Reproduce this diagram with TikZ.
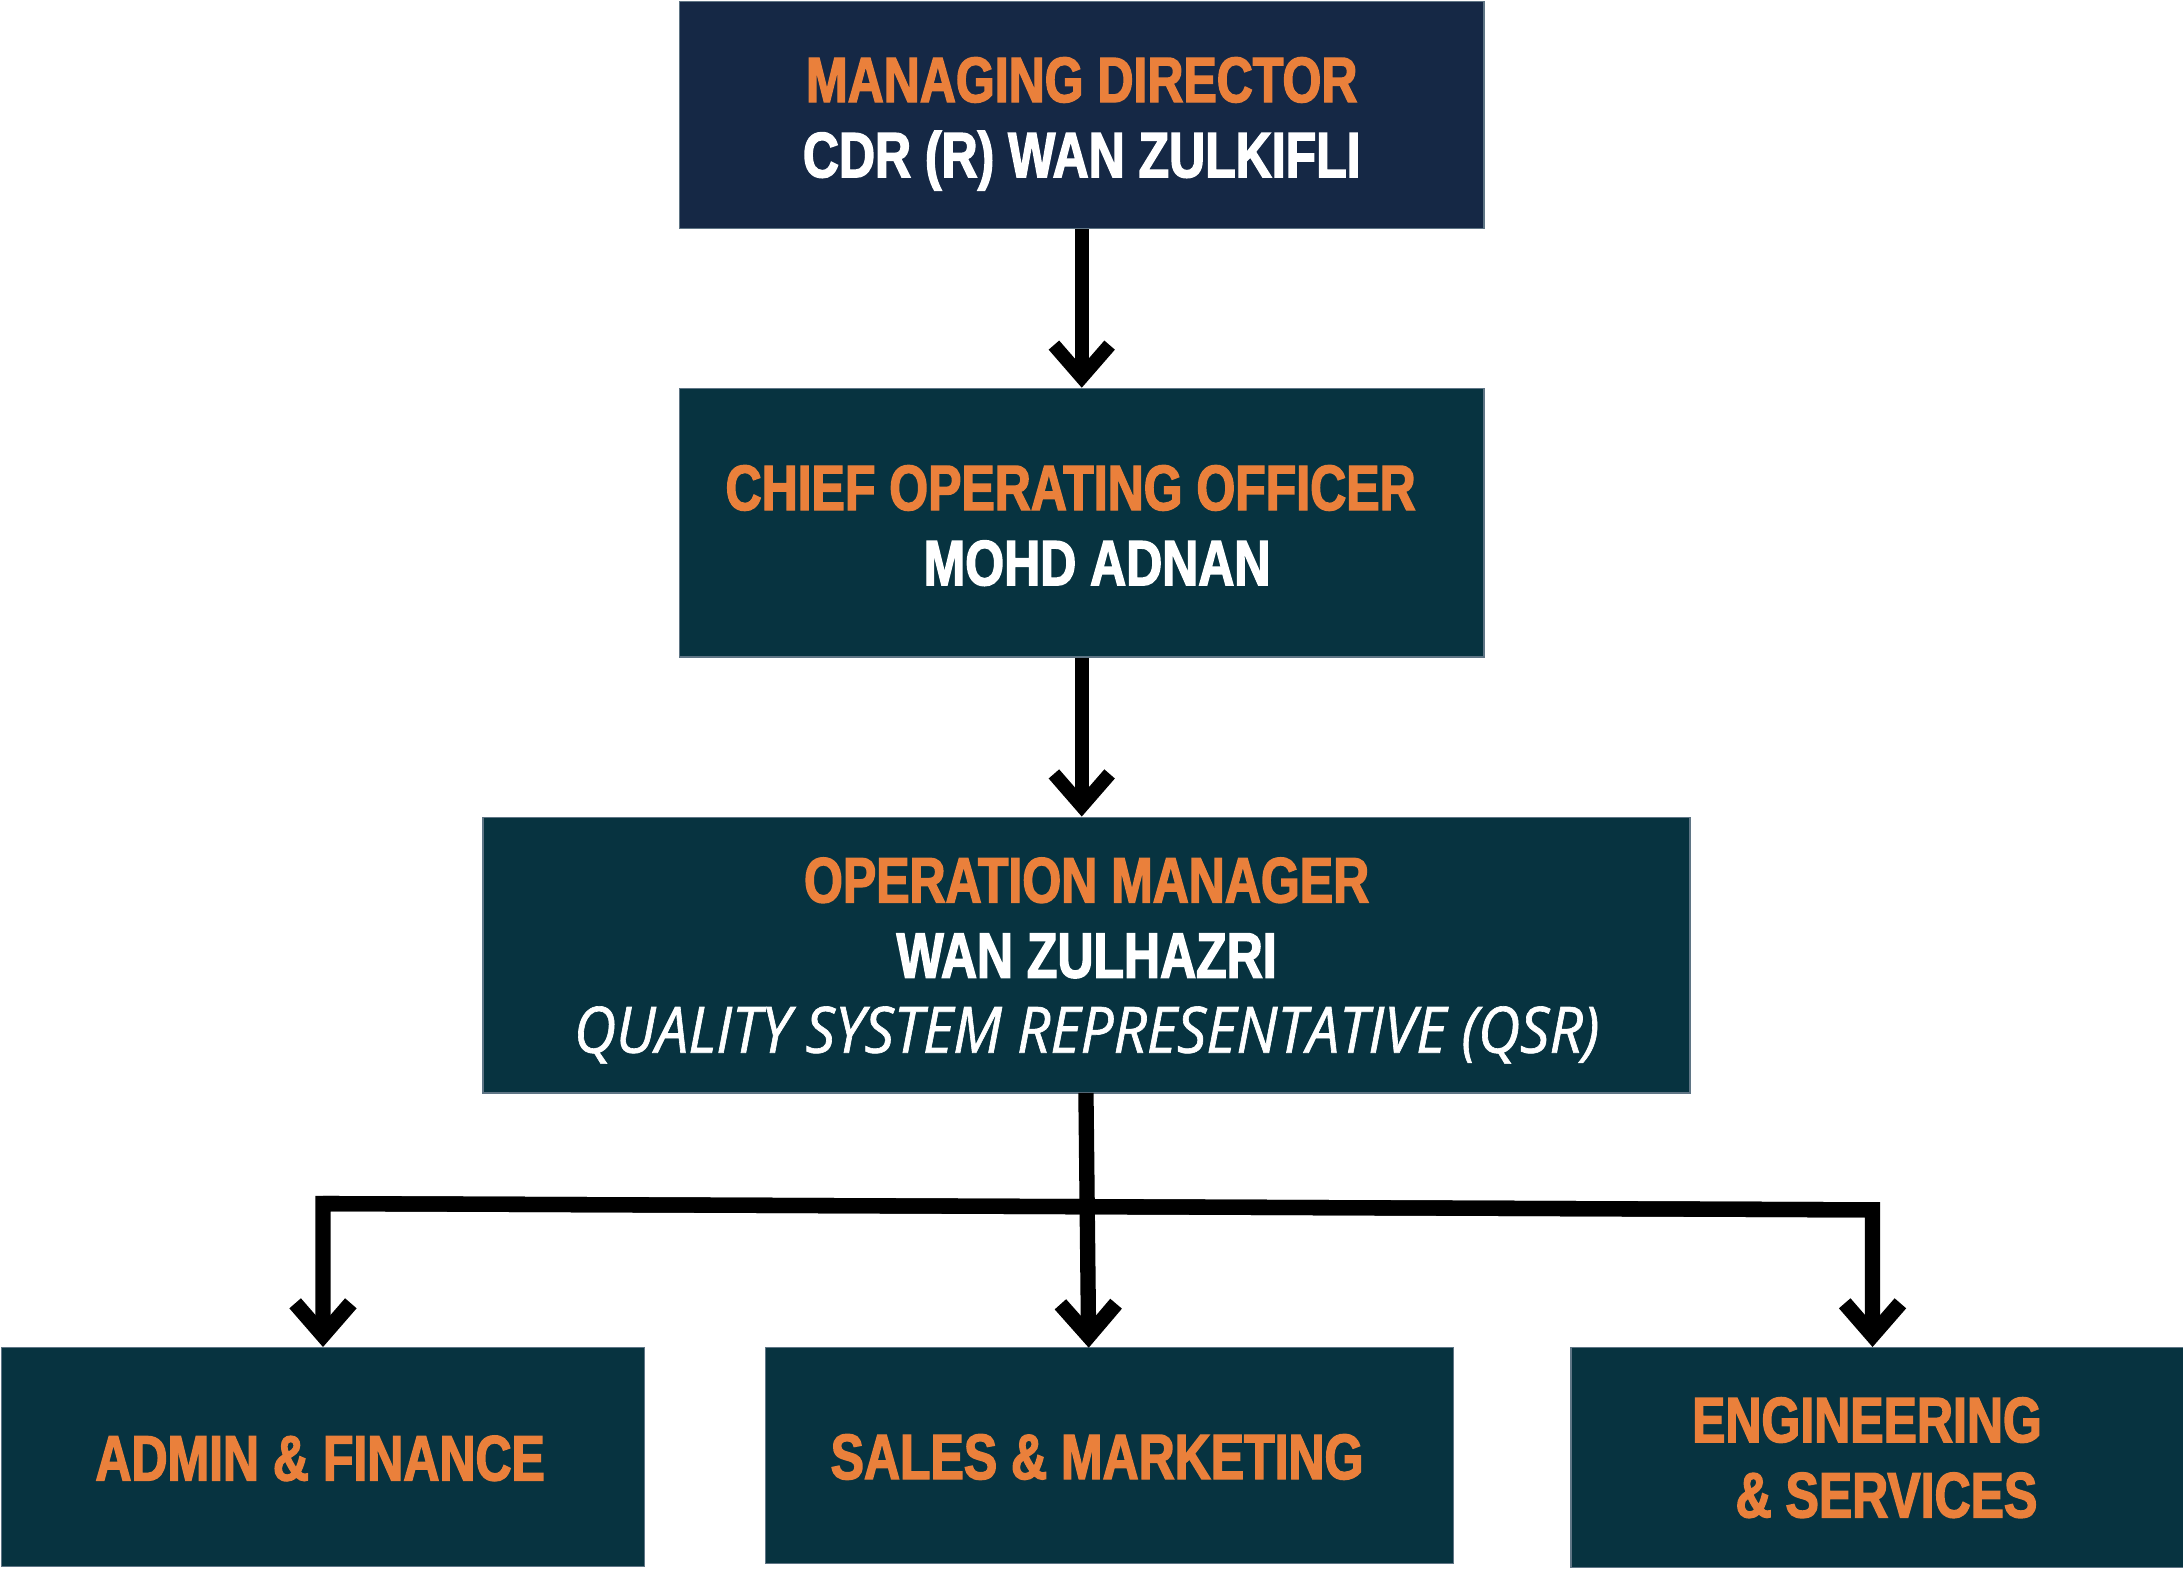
\documentclass[tikz,border=0pt]{standalone}
\usepackage{fontspec}
\usetikzlibrary{arrows.meta,calc}
\newfontfamily\boldnarrow{Liberation Sans}[FakeStretch=0.78,FakeBold=2.2]
\newfontfamily\italnarrow{Open Sans}[FakeStretch=0.91,FakeBold=1.0]
\definecolor{navy}{HTML}{152845}
\definecolor{teal}{HTML}{073340}
\definecolor{orng}{HTML}{EA803B}
\definecolor{edge}{HTML}{5F7585}
\newcommand\offln[2]{\makebox[0pt][c]{\hspace*{#1}#2}}
\tikzset{
  orgbox/.style={rectangle, fill=teal, draw=edge, line width=1pt, inner sep=0pt},
  boxtext/.style={inner sep=0pt, align=center, text=orng,
    font=\boldnarrow\bfseries\fontsize{46}{54}\selectfont},
  conn/.style={line width=10pt, line join=miter,
    -{Straight Barb[length=23pt,width=40pt,sharp]}},
}
\begin{document}
\begin{tikzpicture}[x=1pt,y=-1pt]
\useasboundingbox[fill=white] (0,0) rectangle (1568,1127);
% boxes
\node[orgbox, fill=navy, minimum width=578pt, minimum height=163pt] (md) at (777,82.5) {};
\node[orgbox, minimum width=578pt, minimum height=193pt] (coo) at (777,375.5) {};
\node[orgbox, minimum width=867pt, minimum height=198pt] (om) at (780.5,686) {};
\node[orgbox, minimum width=462pt, minimum height=157pt] (admin) at (232,1046.5) {};
\node[orgbox, minimum width=494pt, minimum height=155pt] (sales) at (797,1045.5) {};
\node[orgbox, minimum width=440pt, minimum height=158pt] (eng) at (1348.5,1047) {};
% texts
\node[boxtext] (mdtext) at ($(md.center)+(0,6.5)$)
  {MANAGING DIRECTOR\\\textcolor{white}{CDR (R) WAN ZULKIFLI}};
\node[boxtext] (cootext) at ($(coo.center)+(0,2)$)
  {\offln{-16pt}{CHIEF OPERATING OFFICER}\\\offln{22pt}{\textcolor{white}{MOHD ADNAN}}};
\node[boxtext] (omtext) at ($(om.center)+(0,4)$)
  {OPERATION MANAGER\\\textcolor{white}{WAN ZULHAZRI}\\
   \textcolor{white}{\italnarrow\mdseries\itshape QUALITY SYSTEM REPRESENTATIVE (QSR)}};
\node[boxtext] (admintext) at ($(admin.center)+(-2,1)$) {ADMIN \& FINANCE};
\node[boxtext] (salestext) at ($(sales.center)+(-9,1)$) {SALES \& MARKETING};
\node[boxtext] (engtext) at (eng.center)
  {\offln{-15pt}{ENGINEERING}\\\offln{13pt}{\& SERVICES}};
% connectors
\draw[conn] (md.south) -- (coo.north);
\draw[conn] (coo.south) -- (coo.south |- om.north);
\coordinate (omb) at (780,785);
\coordinate (salt) at (782,968);
\coordinate (hl) at (232,864.5);
\coordinate (hr) at (1345,869);
\draw[conn, line width=11pt] (omb) -- (salt);
\draw[conn, line width=11pt] (hr) -- (hl) -- (hl |- admin.north);
\draw[conn, line width=11pt] (hl) -- (hr) -- (hr |- eng.north);
\end{tikzpicture}
\end{document}
